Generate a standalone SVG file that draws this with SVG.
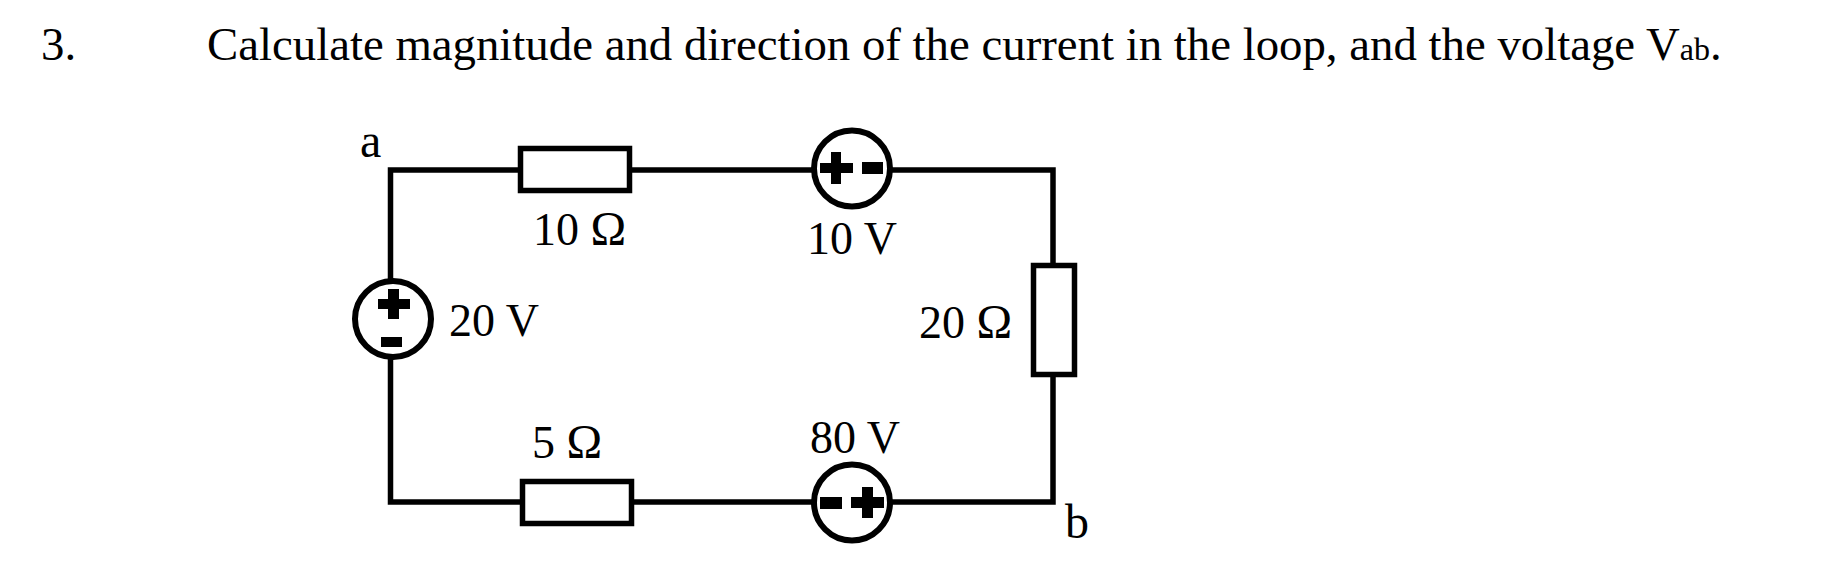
<svg xmlns="http://www.w3.org/2000/svg" width="1840" height="562" viewBox="0 0 1840 562">
<style>
text{font-family:"Liberation Serif","Times New Roman",serif;fill:#000}
.t{font-size:46.8px}
.l{font-size:46px}
.n{font-size:48px}
.o{font-size:48px}
.w{fill:none;stroke:#000;stroke-width:5.5;stroke-linecap:square}
.r{fill:#fff;stroke:#000;stroke-width:5.5}
.c{fill:#fff;stroke:#000;stroke-width:6}
.s{fill:#000}
</style>
<rect width="1840" height="562" fill="#fff"/>
<g id="title">
<text class="t" x="41" y="60">3.</text>
<text class="t" x="207" y="60">Calculate magnitude and direction of the current in the loop, and the voltage V<tspan font-size="32px">ab</tspan>.</text>
</g>
<g id="connectors">
<path class="w" d="M390.500 278V170H518M632 170H811M893 170H1053V263M1053 377V502H893M811 502H634M520 502H390.500V360"/>
</g>
<g id="node-a"><text class="n" x="360" y="157">a</text></g>
<g id="node-b"><text class="n" x="1065" y="538">b</text></g>
<g id="r10">
<rect class="r" x="520.500" y="148.500" width="109" height="42"/>
<text class="l" x="533" y="245">10 <tspan class="o">Ω</tspan></text>
</g>
<g id="v10">
<circle class="c" cx="852" cy="168.500" r="38"/>
<path class="s" d="M831 152h10v11h12v10h-12v11h-10v-11h-11v-10h11z"/>
<rect class="s" x="862" y="162" width="21" height="12"/>
<text class="l" x="807" y="254">10 V</text>
</g>
<g id="r20">
<rect class="r" x="1033.500" y="265.500" width="41" height="109"/>
<text class="l" x="919" y="338">20 <tspan class="o">Ω</tspan></text>
</g>
<g id="v80">
<circle class="c" cx="852" cy="502.500" r="38"/>
<rect class="s" x="820" y="497" width="22" height="12"/>
<path class="s" d="M862 487h11v10h11v11h-11v10h-11v-10h-11v-11h11z"/>
<text class="l" x="810" y="453">80 V</text>
</g>
<g id="r5">
<rect class="r" x="522.500" y="481.500" width="109" height="42"/>
<text class="l" x="532" y="458">5 <tspan class="o">Ω</tspan></text>
</g>
<g id="v20">
<circle class="c" cx="393" cy="319" r="38"/>
<path class="s" d="M388 289h11v10h11v10h-11v10h-11v-10h-10v-10h10z"/>
<rect class="s" x="381" y="337" width="21" height="10"/>
<text class="l" x="449" y="336">20 V</text>
</g>
</svg>
